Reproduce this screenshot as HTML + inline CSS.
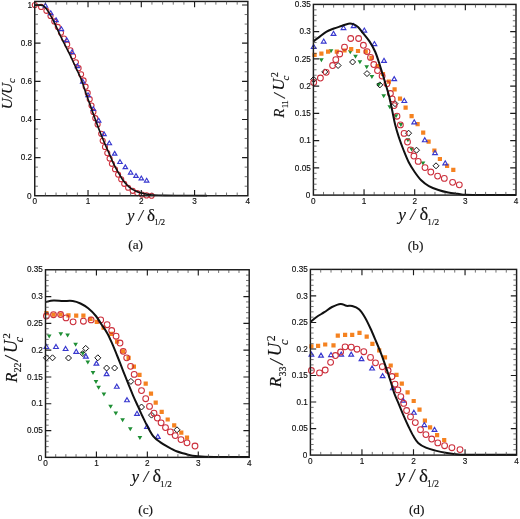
<!DOCTYPE html>
<html lang="en"><head><meta charset="utf-8"><title>Figure</title>
<style>
html,body{margin:0;padding:0;background:#fff}
svg{display:block}
.tk{font-family:"Liberation Sans",Arial,Helvetica,sans-serif;font-size:8.2px;fill:#111;stroke:#111;stroke-width:0.15px}
.it{font-family:"Liberation Serif","Times New Roman",Times,serif;font-style:italic;fill:#111;stroke:#111;stroke-width:0.15px}
.cap{font-family:"Liberation Serif","Times New Roman",Times,serif;font-size:13.3px;fill:#111;stroke:#111;stroke-width:0.15px}
</style></head><body>
<svg width="520" height="519" viewBox="0 0 520 519">
<rect width="520" height="519" fill="#fff"/>
<defs>
<clipPath id="cpa"><rect x="30.75" y="-2.55" width="221.1" height="202.3"/></clipPath>
<clipPath id="cpb"><rect x="309.4" y="0.40000000000000036" width="210.60000000000002" height="198.7"/></clipPath>
<clipPath id="cpc"><rect x="41.5" y="265.75" width="211.7" height="195.60000000000002"/></clipPath>
<clipPath id="cpd"><rect x="306.4" y="265.4" width="214.20000000000005" height="193.70000000000005"/></clipPath>
</defs>
<g clip-path="url(#cpa)">
<g fill="none" stroke="#cc2f3c" stroke-width="1.05">
<circle cx="34.8" cy="5.0" r="2.55"/>
<circle cx="41.1" cy="6.9" r="2.55"/>
<circle cx="46.4" cy="10.8" r="2.55"/>
<circle cx="50.5" cy="16.0" r="2.55"/>
<circle cx="54.3" cy="21.4" r="2.55"/>
<circle cx="57.8" cy="26.9" r="2.55"/>
<circle cx="61.0" cy="32.7" r="2.55"/>
<circle cx="64.0" cy="38.6" r="2.55"/>
<circle cx="67.2" cy="44.4" r="2.55"/>
<circle cx="70.4" cy="50.2" r="2.55"/>
<circle cx="73.1" cy="56.2" r="2.55"/>
<circle cx="75.9" cy="62.2" r="2.55"/>
<circle cx="78.6" cy="68.2" r="2.55"/>
<circle cx="81.1" cy="74.3" r="2.55"/>
<circle cx="83.6" cy="80.4" r="2.55"/>
<circle cx="85.6" cy="86.7" r="2.55"/>
<circle cx="87.7" cy="92.9" r="2.55"/>
<circle cx="89.7" cy="99.2" r="2.55"/>
<circle cx="91.5" cy="105.6" r="2.55"/>
<circle cx="93.4" cy="111.9" r="2.55"/>
<circle cx="95.3" cy="118.2" r="2.55"/>
<circle cx="97.6" cy="124.4" r="2.55"/>
<circle cx="101.2" cy="133.8" r="2.55"/>
<circle cx="102.7" cy="140.8" r="2.55"/>
<circle cx="105.0" cy="146.9" r="2.55"/>
<circle cx="107.3" cy="153.1" r="2.55"/>
<circle cx="109.6" cy="158.5" r="2.55"/>
<circle cx="111.9" cy="163.8" r="2.55"/>
<circle cx="115.0" cy="169.2" r="2.55"/>
<circle cx="118.1" cy="174.6" r="2.55"/>
<circle cx="121.2" cy="179.2" r="2.55"/>
<circle cx="124.2" cy="183.8" r="2.55"/>
<circle cx="128.1" cy="187.7" r="2.55"/>
<circle cx="132.7" cy="190.8" r="2.55"/>
<circle cx="137.3" cy="193.1" r="2.55"/>
<circle cx="141.9" cy="194.6" r="2.55"/>
<circle cx="146.5" cy="195.4" r="2.55"/>
<circle cx="151.6" cy="195.7" r="2.55"/>
</g>
<g fill="none" stroke="#3838cf" stroke-width="1.15" stroke-linejoin="miter">
<path d="M45.41 3.27l2.23 3.81h-4.46zM50.73 10.77l2.23 3.81h-4.46zM56.06 17.77l2.23 3.81h-4.46zM61.39 26.77l2.23 3.81h-4.46zM66.72 37.77l2.23 3.81h-4.46zM72.04 49.77l2.23 3.81h-4.46zM77.37 63.77l2.23 3.81h-4.46zM82.70 79.27l2.23 3.81h-4.46zM88.03 92.77l2.23 3.81h-4.46zM93.35 106.67l2.23 3.81h-4.46zM98.68 118.27l2.23 3.81h-4.46zM104.01 131.77l2.23 3.81h-4.46zM109.34 140.97l2.23 3.81h-4.46zM114.66 151.37l2.23 3.81h-4.46zM119.99 159.67l2.23 3.81h-4.46zM125.32 164.87l2.23 3.81h-4.46zM130.64 170.27l2.23 3.81h-4.46zM135.97 173.57l2.23 3.81h-4.46zM141.30 176.07l2.23 3.81h-4.46zM146.63 178.27l2.23 3.81h-4.46z"/>
</g>
<path d="M34.75 5.10C35.54 5.10 38.04 4.97 39.50 5.10C40.96 5.23 42.03 4.82 43.50 5.90C44.97 6.98 46.53 8.88 48.30 11.60C50.07 14.32 52.02 18.03 54.10 22.20C56.18 26.37 58.72 32.27 60.80 36.60C62.88 40.93 64.83 44.67 66.60 48.20C68.37 51.73 69.80 54.43 71.40 57.80C73.00 61.17 74.58 64.87 76.20 68.40C77.82 71.93 79.40 74.65 81.10 79.00C82.80 83.35 84.72 89.68 86.40 94.50C88.08 99.32 89.60 103.42 91.20 107.90C92.80 112.38 94.40 117.05 96.00 121.40C97.60 125.75 99.20 129.98 100.80 134.00C102.40 138.02 104.13 142.07 105.60 145.50C107.07 148.93 108.27 151.55 109.60 154.60C110.93 157.65 112.17 160.85 113.60 163.80C115.03 166.75 116.67 169.60 118.20 172.30C119.73 175.00 121.27 177.82 122.80 180.00C124.33 182.18 125.87 183.87 127.40 185.40C128.93 186.93 130.47 188.18 132.00 189.20C133.53 190.22 135.05 190.85 136.60 191.50C138.15 192.15 139.52 192.63 141.30 193.10C143.08 193.57 145.27 193.98 147.30 194.30C149.33 194.62 150.55 194.82 153.50 195.00C156.45 195.18 160.58 195.32 165.00 195.40C169.42 195.48 173.00 195.47 180.00 195.50C187.00 195.53 202.50 195.58 207.00 195.60" fill="none" stroke="#111" stroke-width="1.6" stroke-linejoin="round" stroke-linecap="butt"/>
</g>
<g class="frame">
<rect x="34.75" y="1.45" width="213.10" height="194.30" fill="none" stroke="#1c1c1c" stroke-width="1.45"/>
<path d="M88.03 195.75v-5.8M88.03 1.45v5.8M141.30 195.75v-5.8M141.30 1.45v5.8M194.57 195.75v-5.8M194.57 1.45v5.8M34.75 157.60h5.8M247.85 157.60h-5.8M34.75 119.45h5.8M247.85 119.45h-5.8M34.75 81.30h5.8M247.85 81.30h-5.8M34.75 43.15h5.8M247.85 43.15h-5.8M34.75 5.00h5.8M247.85 5.00h-5.8" stroke="#1c1c1c" stroke-width="1.15" fill="none"/>
<path d="M45.41 195.75v-3.2M45.41 1.45v3.2M56.06 195.75v-3.2M56.06 1.45v3.2M66.72 195.75v-3.2M66.72 1.45v3.2M77.37 195.75v-3.2M77.37 1.45v3.2M98.68 195.75v-3.2M98.68 1.45v3.2M109.34 195.75v-3.2M109.34 1.45v3.2M119.99 195.75v-3.2M119.99 1.45v3.2M130.64 195.75v-3.2M130.64 1.45v3.2M151.95 195.75v-3.2M151.95 1.45v3.2M162.61 195.75v-3.2M162.61 1.45v3.2M173.26 195.75v-3.2M173.26 1.45v3.2M183.92 195.75v-3.2M183.92 1.45v3.2M205.23 195.75v-3.2M205.23 1.45v3.2M215.88 195.75v-3.2M215.88 1.45v3.2M226.54 195.75v-3.2M226.54 1.45v3.2M237.19 195.75v-3.2M237.19 1.45v3.2M34.75 186.21h3.2M247.85 186.21h-3.2M34.75 176.68h3.2M247.85 176.68h-3.2M34.75 167.14h3.2M247.85 167.14h-3.2M34.75 148.06h3.2M247.85 148.06h-3.2M34.75 138.53h3.2M247.85 138.53h-3.2M34.75 128.99h3.2M247.85 128.99h-3.2M34.75 109.91h3.2M247.85 109.91h-3.2M34.75 100.38h3.2M247.85 100.38h-3.2M34.75 90.84h3.2M247.85 90.84h-3.2M34.75 71.76h3.2M247.85 71.76h-3.2M34.75 62.22h3.2M247.85 62.22h-3.2M34.75 52.69h3.2M247.85 52.69h-3.2M34.75 33.61h3.2M247.85 33.61h-3.2M34.75 24.07h3.2M247.85 24.07h-3.2M34.75 14.54h3.2M247.85 14.54h-3.2" stroke="#444" stroke-width="0.75" fill="none"/>
<text class="tk" x="34.75" y="204.35" text-anchor="middle">0</text>
<text class="tk" x="88.03" y="204.35" text-anchor="middle">1</text>
<text class="tk" x="141.30" y="204.35" text-anchor="middle">2</text>
<text class="tk" x="194.57" y="204.35" text-anchor="middle">3</text>
<text class="tk" x="247.85" y="204.35" text-anchor="middle">4</text>
<text class="tk" x="31.55" y="199.05" text-anchor="end">0</text>
<text class="tk" x="32.15" y="160.30" text-anchor="end">0.2</text>
<text class="tk" x="32.15" y="122.15" text-anchor="end">0.4</text>
<text class="tk" x="32.15" y="84.00" text-anchor="end">0.6</text>
<text class="tk" x="32.15" y="45.85" text-anchor="end">0.8</text>
<text class="tk" x="32.15" y="7.70" text-anchor="end">1</text>
</g>
<g clip-path="url(#cpb)">
<path d="M319.05 58.34h4.70l-2.35 4.00zM328.65 49.24h4.70l-2.35 4.00zM347.95 50.24h4.70l-2.35 4.00zM353.15 54.74h4.70l-2.35 4.00zM357.55 60.24h4.70l-2.35 4.00zM364.35 65.24h4.70l-2.35 4.00zM369.55 74.94h4.70l-2.35 4.00zM376.45 83.04h4.70l-2.35 4.00zM381.35 94.14h4.70l-2.35 4.00zM387.45 105.24h4.70l-2.35 4.00zM393.65 114.14h4.70l-2.35 4.00zM398.55 122.94h4.70l-2.35 4.00zM405.55 138.34h4.70l-2.35 4.00zM409.25 147.44h4.70l-2.35 4.00zM420.65 161.44h4.70l-2.35 4.00z" fill="#1f8f35"/>
<path d="M312.5 52.8h4.2v4.2h-4.2zM319.3 51.5h4.2v4.2h-4.2zM326.0 49.5h4.2v4.2h-4.2zM334.7 49.5h4.2v4.2h-4.2zM342.4 48.4h4.2v4.2h-4.2zM349.1 47.0h4.2v4.2h-4.2zM355.9 48.9h4.2v4.2h-4.2zM363.6 49.5h4.2v4.2h-4.2zM369.4 55.7h4.2v4.2h-4.2zM375.4 63.9h4.2v4.2h-4.2zM380.9 71.9h4.2v4.2h-4.2zM386.8 79.6h4.2v4.2h-4.2zM392.5 87.3h4.2v4.2h-4.2zM397.9 96.5h4.2v4.2h-4.2zM403.5 105.5h4.2v4.2h-4.2zM409.5 114.1h4.2v4.2h-4.2zM415.5 122.0h4.2v4.2h-4.2zM421.1 130.5h4.2v4.2h-4.2zM426.5 139.6h4.2v4.2h-4.2zM432.3 148.4h4.2v4.2h-4.2zM437.8 156.9h4.2v4.2h-4.2zM445.0 163.7h4.2v4.2h-4.2zM451.2 167.7h4.2v4.2h-4.2z" fill="#f58220"/>
<path d="M313.7 76.4l3.0 3.0l-3.0 3.0l-3.0 -3.0zM324.8 68.9l3.0 3.0l-3.0 3.0l-3.0 -3.0zM338.1 62.5l3.0 3.0l-3.0 3.0l-3.0 -3.0zM352.6 59.0l3.0 3.0l-3.0 3.0l-3.0 -3.0zM367.0 70.6l3.0 3.0l-3.0 3.0l-3.0 -3.0zM379.8 81.9l3.0 3.0l-3.0 3.0l-3.0 -3.0zM395.0 100.7l3.0 3.0l-3.0 3.0l-3.0 -3.0zM408.6 130.2l3.0 3.0l-3.0 3.0l-3.0 -3.0zM416.5 147.2l3.0 3.0l-3.0 3.0l-3.0 -3.0zM436.0 162.8l3.0 3.0l-3.0 3.0l-3.0 -3.0z" fill="none" stroke="#111" stroke-width="1.0"/>
<g fill="none" stroke="#3838cf" stroke-width="1.15" stroke-linejoin="miter">
<path d="M313.70 44.42l2.38 4.05h-4.75zM323.70 39.02l2.38 4.05h-4.75zM333.50 31.33l2.38 4.05h-4.75zM343.50 25.52l2.38 4.05h-4.75zM353.60 23.62l2.38 4.05h-4.75zM364.30 28.02l2.38 4.05h-4.75zM374.40 41.52l2.38 4.05h-4.75zM384.00 58.33l2.38 4.05h-4.75zM394.20 76.62l2.38 4.05h-4.75zM404.30 98.42l2.38 4.05h-4.75zM414.20 119.83l2.38 4.05h-4.75zM424.80 137.72l2.38 4.05h-4.75zM435.00 150.53l2.38 4.05h-4.75zM445.20 160.82l2.38 4.05h-4.75z"/>
</g>
<g fill="none" stroke="#cc2f3c" stroke-width="1.05">
<circle cx="313.7" cy="82.5" r="2.9"/>
<circle cx="320.4" cy="78.0" r="2.9"/>
<circle cx="326.2" cy="72.3" r="2.9"/>
<circle cx="332.6" cy="65.5" r="2.9"/>
<circle cx="335.8" cy="59.7" r="2.9"/>
<circle cx="339.7" cy="54.0" r="2.9"/>
<circle cx="344.5" cy="47.2" r="2.9"/>
<circle cx="350.7" cy="38.5" r="2.9"/>
<circle cx="358.6" cy="38.5" r="2.9"/>
<circle cx="363.4" cy="45.3" r="2.9"/>
<circle cx="367.0" cy="51.6" r="2.9"/>
<circle cx="370.5" cy="57.4" r="2.9"/>
<circle cx="373.8" cy="64.5" r="2.9"/>
<circle cx="377.5" cy="70.5" r="2.9"/>
<circle cx="382.1" cy="76.1" r="2.9"/>
<circle cx="386.9" cy="83.8" r="2.9"/>
<circle cx="390.4" cy="93.5" r="2.9"/>
<circle cx="392.2" cy="98.9" r="2.9"/>
<circle cx="394.1" cy="105.6" r="2.9"/>
<circle cx="397.0" cy="116.2" r="2.9"/>
<circle cx="400.4" cy="124.9" r="2.9"/>
<circle cx="404.1" cy="133.4" r="2.9"/>
<circle cx="407.5" cy="142.0" r="2.9"/>
<circle cx="410.5" cy="149.8" r="2.9"/>
<circle cx="413.9" cy="156.0" r="2.9"/>
<circle cx="418.2" cy="161.4" r="2.9"/>
<circle cx="425.0" cy="167.6" r="2.9"/>
<circle cx="430.8" cy="172.0" r="2.9"/>
<circle cx="437.6" cy="176.1" r="2.9"/>
<circle cx="444.3" cy="178.4" r="2.9"/>
<circle cx="452.6" cy="182.3" r="2.9"/>
<circle cx="459.3" cy="184.8" r="2.9"/>
</g>
<path d="M313.30 41.40C314.17 40.77 316.35 39.20 318.50 37.60C320.65 36.00 323.63 33.32 326.20 31.80C328.77 30.28 331.33 29.47 333.90 28.50C336.47 27.53 339.18 26.80 341.60 26.00C344.02 25.20 346.47 24.02 348.40 23.70C350.33 23.38 351.60 23.55 353.20 24.10C354.80 24.65 356.40 25.55 358.00 27.00C359.60 28.45 360.88 30.40 362.80 32.80C364.72 35.20 367.42 38.20 369.50 41.40C371.58 44.60 373.48 47.73 375.30 52.00C377.12 56.27 378.72 61.75 380.40 67.00C382.08 72.25 383.92 78.50 385.40 83.50C386.88 88.50 388.17 92.50 389.30 97.00C390.43 101.50 391.25 106.00 392.20 110.50C393.15 115.00 393.88 119.52 395.00 124.00C396.12 128.48 397.45 132.98 398.90 137.40C400.35 141.82 402.08 146.40 403.70 150.50C405.32 154.60 406.80 158.47 408.60 162.00C410.40 165.53 412.40 168.65 414.50 171.70C416.60 174.75 418.80 177.90 421.20 180.30C423.60 182.70 426.02 184.48 428.90 186.10C431.78 187.72 435.28 188.93 438.50 190.00C441.72 191.07 444.98 191.87 448.20 192.50C451.42 193.13 454.92 193.42 457.80 193.80C460.68 194.18 461.80 194.62 465.50 194.80C469.20 194.98 474.25 194.88 480.00 194.90C485.75 194.92 494.00 194.90 500.00 194.90C506.00 194.90 513.33 194.90 516.00 194.90" fill="none" stroke="#111" stroke-width="2.0" stroke-linejoin="round" stroke-linecap="butt"/>
</g>
<g class="frame">
<rect x="313.4" y="4.4" width="202.60" height="190.70" fill="none" stroke="#1c1c1c" stroke-width="1.45"/>
<path d="M364.05 195.1v-5.8M364.05 4.4v5.8M414.70 195.1v-5.8M414.70 4.4v5.8M465.35 195.1v-5.8M465.35 4.4v5.8M313.4 167.86h5.8M516.0 167.86h-5.8M313.4 140.61h5.8M516.0 140.61h-5.8M313.4 113.37h5.8M516.0 113.37h-5.8M313.4 86.13h5.8M516.0 86.13h-5.8M313.4 58.89h5.8M516.0 58.89h-5.8M313.4 31.64h5.8M516.0 31.64h-5.8" stroke="#1c1c1c" stroke-width="1.15" fill="none"/>
<path d="M323.53 195.1v-3.2M323.53 4.4v3.2M333.66 195.1v-3.2M333.66 4.4v3.2M343.79 195.1v-3.2M343.79 4.4v3.2M353.92 195.1v-3.2M353.92 4.4v3.2M374.18 195.1v-3.2M374.18 4.4v3.2M384.31 195.1v-3.2M384.31 4.4v3.2M394.44 195.1v-3.2M394.44 4.4v3.2M404.57 195.1v-3.2M404.57 4.4v3.2M424.83 195.1v-3.2M424.83 4.4v3.2M434.96 195.1v-3.2M434.96 4.4v3.2M445.09 195.1v-3.2M445.09 4.4v3.2M455.22 195.1v-3.2M455.22 4.4v3.2M475.48 195.1v-3.2M475.48 4.4v3.2M485.61 195.1v-3.2M485.61 4.4v3.2M495.74 195.1v-3.2M495.74 4.4v3.2M505.87 195.1v-3.2M505.87 4.4v3.2M313.4 189.65h3.2M516.0 189.65h-3.2M313.4 184.20h3.2M516.0 184.20h-3.2M313.4 178.75h3.2M516.0 178.75h-3.2M313.4 173.31h3.2M516.0 173.31h-3.2M313.4 162.41h3.2M516.0 162.41h-3.2M313.4 156.96h3.2M516.0 156.96h-3.2M313.4 151.51h3.2M516.0 151.51h-3.2M313.4 146.06h3.2M516.0 146.06h-3.2M313.4 135.17h3.2M516.0 135.17h-3.2M313.4 129.72h3.2M516.0 129.72h-3.2M313.4 124.27h3.2M516.0 124.27h-3.2M313.4 118.82h3.2M516.0 118.82h-3.2M313.4 107.92h3.2M516.0 107.92h-3.2M313.4 102.47h3.2M516.0 102.47h-3.2M313.4 97.03h3.2M516.0 97.03h-3.2M313.4 91.58h3.2M516.0 91.58h-3.2M313.4 80.68h3.2M516.0 80.68h-3.2M313.4 75.23h3.2M516.0 75.23h-3.2M313.4 69.78h3.2M516.0 69.78h-3.2M313.4 64.33h3.2M516.0 64.33h-3.2M313.4 53.44h3.2M516.0 53.44h-3.2M313.4 47.99h3.2M516.0 47.99h-3.2M313.4 42.54h3.2M516.0 42.54h-3.2M313.4 37.09h3.2M516.0 37.09h-3.2M313.4 26.19h3.2M516.0 26.19h-3.2M313.4 20.75h3.2M516.0 20.75h-3.2M313.4 15.30h3.2M516.0 15.30h-3.2M313.4 9.85h3.2M516.0 9.85h-3.2" stroke="#444" stroke-width="0.75" fill="none"/>
<text class="tk" x="313.40" y="203.70" text-anchor="middle">0</text>
<text class="tk" x="364.05" y="203.70" text-anchor="middle">1</text>
<text class="tk" x="414.70" y="203.70" text-anchor="middle">2</text>
<text class="tk" x="465.35" y="203.70" text-anchor="middle">3</text>
<text class="tk" x="516.00" y="203.70" text-anchor="middle">4</text>
<text class="tk" x="310.20" y="198.40" text-anchor="end">0</text>
<text class="tk" x="310.80" y="170.56" text-anchor="end">0.05</text>
<text class="tk" x="310.80" y="143.31" text-anchor="end">0.1</text>
<text class="tk" x="310.80" y="116.07" text-anchor="end">0.15</text>
<text class="tk" x="310.80" y="88.83" text-anchor="end">0.2</text>
<text class="tk" x="310.80" y="61.59" text-anchor="end">0.25</text>
<text class="tk" x="310.80" y="34.34" text-anchor="end">0.3</text>
<text class="tk" x="310.80" y="7.10" text-anchor="end">0.35</text>
</g>
<g clip-path="url(#cpc)">
<path d="M46.85 334.44h4.70l-2.35 4.00zM58.45 332.14h4.70l-2.35 4.00zM65.25 333.54h4.70l-2.35 4.00zM73.25 342.74h4.70l-2.35 4.00zM80.45 351.84h4.70l-2.35 4.00zM85.45 360.54h4.70l-2.35 4.00zM90.65 371.04h4.70l-2.35 4.00zM93.65 380.04h4.70l-2.35 4.00zM96.25 385.74h4.70l-2.35 4.00zM101.55 392.54h4.70l-2.35 4.00zM108.25 404.64h4.70l-2.35 4.00zM113.45 411.44h4.70l-2.35 4.00zM120.25 418.14h4.70l-2.35 4.00zM127.95 427.24h4.70l-2.35 4.00zM137.55 436.04h4.70l-2.35 4.00z" fill="#1f8f35"/>
<path d="M44.3 311.0h4.2v4.2h-4.2zM51.4 312.6h4.2v4.2h-4.2zM58.5 312.4h4.2v4.2h-4.2zM66.4 313.3h4.2v4.2h-4.2zM74.1 313.5h4.2v4.2h-4.2zM81.3 313.5h4.2v4.2h-4.2zM88.4 316.8h4.2v4.2h-4.2zM94.7 319.7h4.2v4.2h-4.2zM101.5 325.5h4.2v4.2h-4.2zM109.2 331.8h4.2v4.2h-4.2zM115.0 339.5h4.2v4.2h-4.2zM120.8 349.2h4.2v4.2h-4.2zM126.5 355.7h4.2v4.2h-4.2zM131.8 364.6h4.2v4.2h-4.2zM137.4 372.8h4.2v4.2h-4.2zM143.6 381.6h4.2v4.2h-4.2zM148.9 391.6h4.2v4.2h-4.2zM153.6 400.6h4.2v4.2h-4.2zM159.6 409.8h4.2v4.2h-4.2zM165.6 417.4h4.2v4.2h-4.2zM172.1 423.2h4.2v4.2h-4.2zM179.2 430.5h4.2v4.2h-4.2zM184.9 435.6h4.2v4.2h-4.2z" fill="#f58220"/>
<path d="M46.4 354.8l3.0 3.0l-3.0 3.0l-3.0 -3.0zM52.5 354.8l3.0 3.0l-3.0 3.0l-3.0 -3.0zM68.5 355.0l3.0 3.0l-3.0 3.0l-3.0 -3.0zM82.8 350.6l3.0 3.0l-3.0 3.0l-3.0 -3.0zM85.7 345.4l3.0 3.0l-3.0 3.0l-3.0 -3.0zM97.8 354.8l3.0 3.0l-3.0 3.0l-3.0 -3.0zM106.6 365.0l3.0 3.0l-3.0 3.0l-3.0 -3.0zM114.6 365.0l3.0 3.0l-3.0 3.0l-3.0 -3.0zM130.9 378.4l3.0 3.0l-3.0 3.0l-3.0 -3.0zM141.5 404.0l3.0 3.0l-3.0 3.0l-3.0 -3.0zM151.5 412.1l3.0 3.0l-3.0 3.0l-3.0 -3.0zM177.0 426.8l3.0 3.0l-3.0 3.0l-3.0 -3.0z" fill="none" stroke="#111" stroke-width="1.0"/>
<g fill="none" stroke="#3838cf" stroke-width="1.15" stroke-linejoin="miter">
<path d="M46.40 344.43l2.38 4.05h-4.75zM56.00 344.43l2.38 4.05h-4.75zM65.60 346.43l2.38 4.05h-4.75zM76.20 349.32l2.38 4.05h-4.75zM85.90 354.12l2.38 4.05h-4.75zM96.40 361.12l2.38 4.05h-4.75zM106.60 371.62l2.38 4.05h-4.75zM116.80 384.23l2.38 4.05h-4.75zM127.00 397.73l2.38 4.05h-4.75zM137.00 411.32l2.38 4.05h-4.75zM147.00 424.32l2.38 4.05h-4.75zM157.80 434.32l2.38 4.05h-4.75z"/>
</g>
<g fill="none" stroke="#cc2f3c" stroke-width="1.05">
<circle cx="46.4" cy="316.0" r="2.9"/>
<circle cx="53.5" cy="314.7" r="2.9"/>
<circle cx="60.6" cy="314.5" r="2.9"/>
<circle cx="66.0" cy="317.9" r="2.9"/>
<circle cx="73.1" cy="321.8" r="2.9"/>
<circle cx="83.4" cy="321.2" r="2.9"/>
<circle cx="91.1" cy="319.9" r="2.9"/>
<circle cx="100.7" cy="319.9" r="2.9"/>
<circle cx="107.1" cy="324.7" r="2.9"/>
<circle cx="111.7" cy="330.5" r="2.9"/>
<circle cx="116.1" cy="336.2" r="2.9"/>
<circle cx="120.0" cy="343.0" r="2.9"/>
<circle cx="123.2" cy="351.3" r="2.9"/>
<circle cx="126.7" cy="357.8" r="2.9"/>
<circle cx="130.6" cy="366.3" r="2.9"/>
<circle cx="134.2" cy="374.4" r="2.9"/>
<circle cx="138.1" cy="382.2" r="2.9"/>
<circle cx="141.5" cy="390.6" r="2.9"/>
<circle cx="145.7" cy="398.7" r="2.9"/>
<circle cx="149.5" cy="406.4" r="2.9"/>
<circle cx="154.0" cy="413.2" r="2.9"/>
<circle cx="157.3" cy="418.0" r="2.9"/>
<circle cx="161.1" cy="422.8" r="2.9"/>
<circle cx="165.5" cy="427.6" r="2.9"/>
<circle cx="170.4" cy="431.9" r="2.9"/>
<circle cx="175.2" cy="435.6" r="2.9"/>
<circle cx="181.0" cy="439.6" r="2.9"/>
<circle cx="187.0" cy="442.8" r="2.9"/>
<circle cx="195.0" cy="446.0" r="2.9"/>
</g>
<path d="M45.80 301.90C47.08 301.68 50.62 300.75 53.50 300.60C56.38 300.45 59.88 300.93 63.10 301.00C66.32 301.07 69.90 300.58 72.80 301.00C75.70 301.42 77.93 302.28 80.50 303.50C83.07 304.72 85.63 306.22 88.20 308.30C90.77 310.38 93.65 313.27 95.90 316.00C98.15 318.73 99.78 321.80 101.70 324.70C103.62 327.60 105.63 330.20 107.40 333.40C109.17 336.60 110.68 340.22 112.30 343.90C113.92 347.58 115.67 351.97 117.10 355.50C118.53 359.03 119.65 361.90 120.90 365.10C122.15 368.30 123.33 371.50 124.60 374.70C125.87 377.90 127.07 380.78 128.50 384.30C129.93 387.82 131.62 392.12 133.20 395.80C134.78 399.48 136.40 402.87 138.00 406.40C139.60 409.93 141.20 413.62 142.80 417.00C144.40 420.38 145.83 423.48 147.60 426.70C149.37 429.92 151.32 433.73 153.40 436.30C155.48 438.87 157.68 440.33 160.10 442.10C162.52 443.87 165.17 445.37 167.90 446.90C170.63 448.43 173.65 450.15 176.50 451.30C179.35 452.45 182.33 453.05 185.00 453.80C187.67 454.55 189.17 455.30 192.50 455.80C195.83 456.30 199.58 456.60 205.00 456.80C210.42 457.00 217.63 456.95 225.00 457.00C232.37 457.05 245.17 457.08 249.20 457.10" fill="none" stroke="#111" stroke-width="2.0" stroke-linejoin="round" stroke-linecap="butt"/>
</g>
<g class="frame">
<rect x="45.5" y="269.75" width="203.70" height="187.60" fill="none" stroke="#1c1c1c" stroke-width="1.45"/>
<path d="M96.42 457.35v-5.8M96.42 269.75v5.8M147.35 457.35v-5.8M147.35 269.75v5.8M198.28 457.35v-5.8M198.28 269.75v5.8M45.5 430.55h5.8M249.2 430.55h-5.8M45.5 403.75h5.8M249.2 403.75h-5.8M45.5 376.95h5.8M249.2 376.95h-5.8M45.5 350.15h5.8M249.2 350.15h-5.8M45.5 323.35h5.8M249.2 323.35h-5.8M45.5 296.55h5.8M249.2 296.55h-5.8" stroke="#1c1c1c" stroke-width="1.15" fill="none"/>
<path d="M55.69 457.35v-3.2M55.69 269.75v3.2M65.87 457.35v-3.2M65.87 269.75v3.2M76.05 457.35v-3.2M76.05 269.75v3.2M86.24 457.35v-3.2M86.24 269.75v3.2M106.61 457.35v-3.2M106.61 269.75v3.2M116.79 457.35v-3.2M116.79 269.75v3.2M126.98 457.35v-3.2M126.98 269.75v3.2M137.16 457.35v-3.2M137.16 269.75v3.2M157.53 457.35v-3.2M157.53 269.75v3.2M167.72 457.35v-3.2M167.72 269.75v3.2M177.91 457.35v-3.2M177.91 269.75v3.2M188.09 457.35v-3.2M188.09 269.75v3.2M208.46 457.35v-3.2M208.46 269.75v3.2M218.64 457.35v-3.2M218.64 269.75v3.2M228.83 457.35v-3.2M228.83 269.75v3.2M239.01 457.35v-3.2M239.01 269.75v3.2M45.5 451.99h3.2M249.2 451.99h-3.2M45.5 446.63h3.2M249.2 446.63h-3.2M45.5 441.27h3.2M249.2 441.27h-3.2M45.5 435.91h3.2M249.2 435.91h-3.2M45.5 425.19h3.2M249.2 425.19h-3.2M45.5 419.83h3.2M249.2 419.83h-3.2M45.5 414.47h3.2M249.2 414.47h-3.2M45.5 409.11h3.2M249.2 409.11h-3.2M45.5 398.39h3.2M249.2 398.39h-3.2M45.5 393.03h3.2M249.2 393.03h-3.2M45.5 387.67h3.2M249.2 387.67h-3.2M45.5 382.31h3.2M249.2 382.31h-3.2M45.5 371.59h3.2M249.2 371.59h-3.2M45.5 366.23h3.2M249.2 366.23h-3.2M45.5 360.87h3.2M249.2 360.87h-3.2M45.5 355.51h3.2M249.2 355.51h-3.2M45.5 344.79h3.2M249.2 344.79h-3.2M45.5 339.43h3.2M249.2 339.43h-3.2M45.5 334.07h3.2M249.2 334.07h-3.2M45.5 328.71h3.2M249.2 328.71h-3.2M45.5 317.99h3.2M249.2 317.99h-3.2M45.5 312.63h3.2M249.2 312.63h-3.2M45.5 307.27h3.2M249.2 307.27h-3.2M45.5 301.91h3.2M249.2 301.91h-3.2M45.5 291.19h3.2M249.2 291.19h-3.2M45.5 285.83h3.2M249.2 285.83h-3.2M45.5 280.47h3.2M249.2 280.47h-3.2M45.5 275.11h3.2M249.2 275.11h-3.2" stroke="#444" stroke-width="0.75" fill="none"/>
<text class="tk" x="45.50" y="465.95" text-anchor="middle">0</text>
<text class="tk" x="96.42" y="465.95" text-anchor="middle">1</text>
<text class="tk" x="147.35" y="465.95" text-anchor="middle">2</text>
<text class="tk" x="198.27" y="465.95" text-anchor="middle">3</text>
<text class="tk" x="249.20" y="465.95" text-anchor="middle">4</text>
<text class="tk" x="42.30" y="460.65" text-anchor="end">0</text>
<text class="tk" x="42.90" y="433.25" text-anchor="end">0.05</text>
<text class="tk" x="42.90" y="406.45" text-anchor="end">0.1</text>
<text class="tk" x="42.90" y="379.65" text-anchor="end">0.15</text>
<text class="tk" x="42.90" y="352.85" text-anchor="end">0.2</text>
<text class="tk" x="42.90" y="326.05" text-anchor="end">0.25</text>
<text class="tk" x="42.90" y="299.25" text-anchor="end">0.3</text>
<text class="tk" x="42.90" y="272.45" text-anchor="end">0.35</text>
</g>
<g clip-path="url(#cpd)">
<path d="M309.3 344.2h4.2v4.2h-4.2zM316.0 343.8h4.2v4.2h-4.2zM323.1 342.4h4.2v4.2h-4.2zM331.4 343.2h4.2v4.2h-4.2zM335.7 333.6h4.2v4.2h-4.2zM343.0 332.8h4.2v4.2h-4.2zM350.1 332.8h4.2v4.2h-4.2zM357.4 330.7h4.2v4.2h-4.2zM364.6 334.5h4.2v4.2h-4.2zM370.3 341.8h4.2v4.2h-4.2zM377.1 348.2h4.2v4.2h-4.2zM382.9 355.3h4.2v4.2h-4.2zM388.6 363.4h4.2v4.2h-4.2zM394.4 372.7h4.2v4.2h-4.2zM399.7 381.5h4.2v4.2h-4.2zM405.5 390.3h4.2v4.2h-4.2zM411.6 398.9h4.2v4.2h-4.2zM417.4 407.6h4.2v4.2h-4.2zM422.8 418.6h4.2v4.2h-4.2zM428.0 425.3h4.2v4.2h-4.2zM435.0 433.0h4.2v4.2h-4.2zM442.1 437.9h4.2v4.2h-4.2z" fill="#f58220"/>
<g fill="none" stroke="#3838cf" stroke-width="1.15" stroke-linejoin="miter">
<path d="M311.40 352.12l2.38 4.05h-4.75zM321.00 353.12l2.38 4.05h-4.75zM331.00 352.52l2.38 4.05h-4.75zM341.20 352.12l2.38 4.05h-4.75zM351.20 352.12l2.38 4.05h-4.75zM361.50 356.62l2.38 4.05h-4.75zM372.10 365.93l2.38 4.05h-4.75zM382.60 373.62l2.38 4.05h-4.75zM392.90 385.73l2.38 4.05h-4.75zM403.10 398.12l2.38 4.05h-4.75zM413.90 410.23l2.38 4.05h-4.75zM424.30 422.52l2.38 4.05h-4.75zM434.50 427.32l2.38 4.05h-4.75z"/>
</g>
<g fill="none" stroke="#cc2f3c" stroke-width="1.05">
<circle cx="311.4" cy="370.5" r="2.9"/>
<circle cx="319.5" cy="372.9" r="2.9"/>
<circle cx="325.2" cy="370.0" r="2.9"/>
<circle cx="330.6" cy="362.3" r="2.9"/>
<circle cx="335.4" cy="355.5" r="2.9"/>
<circle cx="340.6" cy="352.0" r="2.9"/>
<circle cx="345.1" cy="346.8" r="2.9"/>
<circle cx="351.2" cy="347.2" r="2.9"/>
<circle cx="357.0" cy="349.2" r="2.9"/>
<circle cx="363.8" cy="351.7" r="2.9"/>
<circle cx="370.5" cy="357.4" r="2.9"/>
<circle cx="375.5" cy="362.8" r="2.9"/>
<circle cx="382.3" cy="366.7" r="2.9"/>
<circle cx="388.1" cy="370.5" r="2.9"/>
<circle cx="392.0" cy="376.5" r="2.9"/>
<circle cx="395.0" cy="384.2" r="2.9"/>
<circle cx="397.9" cy="389.9" r="2.9"/>
<circle cx="400.8" cy="396.6" r="2.9"/>
<circle cx="403.7" cy="403.4" r="2.9"/>
<circle cx="406.6" cy="410.5" r="2.9"/>
<circle cx="410.5" cy="416.8" r="2.9"/>
<circle cx="415.3" cy="422.6" r="2.9"/>
<circle cx="420.5" cy="429.7" r="2.9"/>
<circle cx="425.9" cy="434.6" r="2.9"/>
<circle cx="431.7" cy="439.0" r="2.9"/>
<circle cx="437.8" cy="442.9" r="2.9"/>
<circle cx="444.6" cy="445.7" r="2.9"/>
<circle cx="451.9" cy="447.7" r="2.9"/>
<circle cx="460.0" cy="449.6" r="2.9"/>
</g>
<path d="M310.80 321.80C311.77 321.00 314.35 318.60 316.60 317.00C318.85 315.40 321.73 313.87 324.30 312.20C326.87 310.53 329.28 308.38 332.00 307.00C334.72 305.62 338.20 304.10 340.60 303.90C343.00 303.70 344.47 305.45 346.40 305.80C348.33 306.15 350.10 305.42 352.20 306.00C354.30 306.58 356.92 307.47 359.00 309.30C361.08 311.13 362.78 313.80 364.70 317.00C366.62 320.20 368.57 324.33 370.50 328.50C372.43 332.67 374.53 337.82 376.30 342.00C378.07 346.18 379.50 349.42 381.10 353.60C382.70 357.78 384.33 362.53 385.90 367.10C387.47 371.67 389.13 376.72 390.50 381.00C391.87 385.28 392.70 388.92 394.10 392.80C395.50 396.68 397.30 400.45 398.90 404.30C400.50 408.15 402.10 412.20 403.70 415.90C405.30 419.60 406.88 423.13 408.50 426.50C410.12 429.87 411.78 433.37 413.40 436.10C415.02 438.83 416.12 440.97 418.20 442.90C420.28 444.83 423.02 446.42 425.90 447.70C428.78 448.98 431.97 449.73 435.50 450.60C439.03 451.47 443.25 452.27 447.10 452.90C450.95 453.53 454.78 454.10 458.60 454.40C462.42 454.70 464.77 454.63 470.00 454.70C475.23 454.77 482.23 454.78 490.00 454.80C497.77 454.82 512.17 454.80 516.60 454.80" fill="none" stroke="#111" stroke-width="2.0" stroke-linejoin="round" stroke-linecap="butt"/>
</g>
<g class="frame">
<rect x="310.4" y="269.4" width="206.20" height="185.70" fill="none" stroke="#1c1c1c" stroke-width="1.45"/>
<path d="M361.95 455.1v-5.8M361.95 269.4v5.8M413.50 455.1v-5.8M413.50 269.4v5.8M465.05 455.1v-5.8M465.05 269.4v5.8M310.4 428.57h5.8M516.6 428.57h-5.8M310.4 402.04h5.8M516.6 402.04h-5.8M310.4 375.51h5.8M516.6 375.51h-5.8M310.4 348.99h5.8M516.6 348.99h-5.8M310.4 322.46h5.8M516.6 322.46h-5.8M310.4 295.93h5.8M516.6 295.93h-5.8" stroke="#1c1c1c" stroke-width="1.15" fill="none"/>
<path d="M320.71 455.1v-3.2M320.71 269.4v3.2M331.02 455.1v-3.2M331.02 269.4v3.2M341.33 455.1v-3.2M341.33 269.4v3.2M351.64 455.1v-3.2M351.64 269.4v3.2M372.26 455.1v-3.2M372.26 269.4v3.2M382.57 455.1v-3.2M382.57 269.4v3.2M392.88 455.1v-3.2M392.88 269.4v3.2M403.19 455.1v-3.2M403.19 269.4v3.2M423.81 455.1v-3.2M423.81 269.4v3.2M434.12 455.1v-3.2M434.12 269.4v3.2M444.43 455.1v-3.2M444.43 269.4v3.2M454.74 455.1v-3.2M454.74 269.4v3.2M475.36 455.1v-3.2M475.36 269.4v3.2M485.67 455.1v-3.2M485.67 269.4v3.2M495.98 455.1v-3.2M495.98 269.4v3.2M506.29 455.1v-3.2M506.29 269.4v3.2M310.4 449.79h3.2M516.6 449.79h-3.2M310.4 444.49h3.2M516.6 444.49h-3.2M310.4 439.18h3.2M516.6 439.18h-3.2M310.4 433.88h3.2M516.6 433.88h-3.2M310.4 423.27h3.2M516.6 423.27h-3.2M310.4 417.96h3.2M516.6 417.96h-3.2M310.4 412.65h3.2M516.6 412.65h-3.2M310.4 407.35h3.2M516.6 407.35h-3.2M310.4 396.74h3.2M516.6 396.74h-3.2M310.4 391.43h3.2M516.6 391.43h-3.2M310.4 386.13h3.2M516.6 386.13h-3.2M310.4 380.82h3.2M516.6 380.82h-3.2M310.4 370.21h3.2M516.6 370.21h-3.2M310.4 364.90h3.2M516.6 364.90h-3.2M310.4 359.60h3.2M516.6 359.60h-3.2M310.4 354.29h3.2M516.6 354.29h-3.2M310.4 343.68h3.2M516.6 343.68h-3.2M310.4 338.37h3.2M516.6 338.37h-3.2M310.4 333.07h3.2M516.6 333.07h-3.2M310.4 327.76h3.2M516.6 327.76h-3.2M310.4 317.15h3.2M516.6 317.15h-3.2M310.4 311.85h3.2M516.6 311.85h-3.2M310.4 306.54h3.2M516.6 306.54h-3.2M310.4 301.23h3.2M516.6 301.23h-3.2M310.4 290.62h3.2M516.6 290.62h-3.2M310.4 285.32h3.2M516.6 285.32h-3.2M310.4 280.01h3.2M516.6 280.01h-3.2M310.4 274.71h3.2M516.6 274.71h-3.2" stroke="#444" stroke-width="0.75" fill="none"/>
<text class="tk" x="310.40" y="463.70" text-anchor="middle">0</text>
<text class="tk" x="361.95" y="463.70" text-anchor="middle">1</text>
<text class="tk" x="413.50" y="463.70" text-anchor="middle">2</text>
<text class="tk" x="465.05" y="463.70" text-anchor="middle">3</text>
<text class="tk" x="516.60" y="463.70" text-anchor="middle">4</text>
<text class="tk" x="307.20" y="458.40" text-anchor="end">0</text>
<text class="tk" x="307.80" y="431.27" text-anchor="end">0.05</text>
<text class="tk" x="307.80" y="404.74" text-anchor="end">0.1</text>
<text class="tk" x="307.80" y="378.21" text-anchor="end">0.15</text>
<text class="tk" x="307.80" y="351.69" text-anchor="end">0.2</text>
<text class="tk" x="307.80" y="325.16" text-anchor="end">0.25</text>
<text class="tk" x="307.80" y="298.63" text-anchor="end">0.3</text>
<text class="tk" x="307.80" y="272.10" text-anchor="end">0.35</text>
</g>
<text class="it xl" x="146.20" y="220.80" text-anchor="middle" font-size="16.1">y / <tspan font-style="normal" font-size="17.14">δ</tspan><tspan font-style="normal" font-size="8.52" dy="3.95" dx="-0.83">1/2</tspan></text>
<text class="it xl" x="418.70" y="220.40" text-anchor="middle" font-size="17.4">y / <tspan font-style="normal" font-size="18.52">δ</tspan><tspan font-style="normal" font-size="9.21" dy="4.27" dx="-0.90">1/2</tspan></text>
<text class="it xl" x="151.60" y="482.40" text-anchor="middle" font-size="17.1">y / <tspan font-style="normal" font-size="18.20">δ</tspan><tspan font-style="normal" font-size="9.05" dy="4.19" dx="-0.88">1/2</tspan></text>
<text class="it xl" x="418.10" y="482.20" text-anchor="middle" font-size="17.8">y / <tspan font-style="normal" font-size="18.95">δ</tspan><tspan font-style="normal" font-size="9.42" dy="4.36" dx="-0.92">1/2</tspan></text>
<text class="cap" x="135.60" y="248.60" text-anchor="middle">(a)</text>
<text class="cap" x="415.60" y="249.60" text-anchor="middle">(b)</text>
<text class="cap" x="145.60" y="514.20" text-anchor="middle">(c)</text>
<text class="cap" x="416.70" y="513.80" text-anchor="middle">(d)</text>
<text class="it" font-size="15.3" transform="translate(11.7 93.8) rotate(-90)" text-anchor="middle">U/U<tspan font-size="10.4" dy="3.4">c</tspan></text>
<g transform="translate(283.6 117.8) rotate(-90)" class="it">
<text x="0.00" y="0.00" font-size="14.87" font-style="italic">R</text>
<text x="9.46" y="4.47" font-size="8.84" font-style="normal" letter-spacing="-0.6">11</text>
<text x="19.76" y="1.66" font-size="16.64" font-style="italic">/</text>
<text x="27.25" y="0.00" font-size="16.43" font-style="italic">U</text>
<text x="37.23" y="5.62" font-size="10.92" font-style="italic">c</text>
<text x="40.46" y="-5.82" font-size="10.40" font-style="normal">2</text>
</g>
<g transform="translate(16.5 382.6) rotate(-90)" class="it">
<text x="0.00" y="0.00" font-size="16.16" font-style="italic">R</text>
<text x="10.28" y="4.86" font-size="9.60" font-style="normal">22</text>
<text x="21.47" y="1.81" font-size="18.08" font-style="italic">/</text>
<text x="29.61" y="0.00" font-size="17.85" font-style="italic">U</text>
<text x="40.45" y="6.10" font-size="11.86" font-style="italic">c</text>
<text x="43.96" y="-6.33" font-size="11.30" font-style="normal">2</text>
</g>
<g transform="translate(281.2 387.2) rotate(-90)" class="it">
<text x="0.00" y="0.00" font-size="16.87" font-style="italic">R</text>
<text x="10.74" y="5.07" font-size="10.03" font-style="normal">33</text>
<text x="22.42" y="1.89" font-size="18.88" font-style="italic">/</text>
<text x="30.92" y="0.00" font-size="18.64" font-style="italic">U</text>
<text x="42.24" y="6.37" font-size="12.39" font-style="italic">c</text>
<text x="45.90" y="-6.61" font-size="11.80" font-style="normal">2</text>
</g>
</svg>
</body></html>
